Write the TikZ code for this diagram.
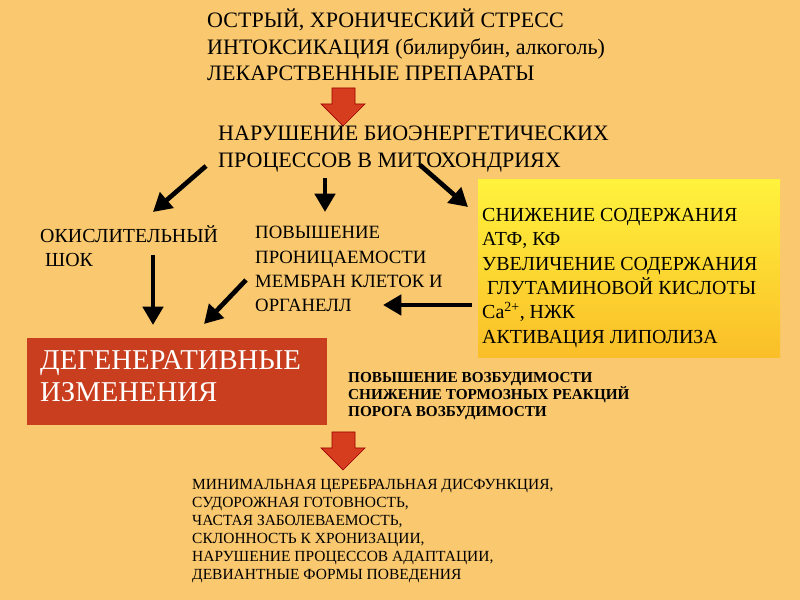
\documentclass[tikz,border=0pt]{standalone}
\usepackage{fontspec}
\setmainfont{Liberation Serif}
\usetikzlibrary{positioning,arrows.meta}
\definecolor{bg}{RGB}{250,200,110}
\definecolor{redbox}{RGB}{200,62,30}
\definecolor{redarrow}{RGB}{214,60,30}
\definecolor{boxtop}{RGB}{255,242,60}
\definecolor{boxbot}{RGB}{250,190,40}
\begin{document}
\begin{tikzpicture}
        [x=0.03cm,y=-0.03cm,
         txt/.style={anchor=north west,align=left,inner sep=0pt,font=\fontsize{17}{20.8}\selectfont},
         small/.style={anchor=north west,align=left,inner sep=0pt,font=\fontsize{13.2}{15.3}\selectfont},
         arr/.style={-{Triangle[length=0.55cm,width=0.6cm]},line width=0.14cm},
         blockarrow/.style={fill=redarrow,draw=red!60!black,line width=0.6pt}]
        \fill[bg] (0,0) rectangle (800,600);
        % top causes
        \node[txt,font=\fontsize{18.8}{22.3}\selectfont](causes) at (207,9){ОСТРЫЙ, ХРОНИЧЕСКИЙ СТРЕСС\\ИНТОКСИКАЦИЯ (билирубин, алкоголь)\\ЛЕКАРСТВЕННЫЕ ПРЕПАРАТЫ};
        \fill[blockarrow] (332,88) -- (355,88) -- (355,104) -- (365,104) -- (343,126) -- (321,104) -- (332,104) -- cycle;
        \node[txt,font=\fontsize{18.8}{23}\selectfont](mito) at (218,126){НАРУШЕНИЕ БИОЭНЕРГЕТИЧЕСКИХ\\ПРОЦЕССОВ В МИТОХОНДРИЯХ};
        % yellow box
        \shade[top color=boxtop,bottom color=boxbot] (478,180) rectangle (780,358);
        \node[txt](atf) at (482,208){СНИЖЕНИЕ СОДЕРЖАНИЯ\\АТФ, КФ\\УВЕЛИЧЕНИЕ СОДЕРЖАНИЯ\\\ ГЛУТАМИНОВОЙ КИСЛОТЫ\\Ca\textsuperscript{2+}, НЖК\\АКТИВАЦИЯ ЛИПОЛИЗА};
        \node[txt](shock) at (40,225){ОКИСЛИТЕЛЬНЫЙ\\\ ШОК};
        \node[txt,font=\fontsize{16}{20.8}\selectfont](perm) at (255,226){ПОВЫШЕНИЕ\\ПРОНИЦАЕМОСТИ\\МЕМБРАН КЛЕТОК И\\ОРГАНЕЛЛ};
        % red box
        \fill[redbox] (27,338) rectangle (327,425);
        \node[txt,text=white,font=\fontsize{24.5}{27.5}\selectfont](degen) at (40,350){ДЕГЕНЕРАТИВНЫЕ\\ИЗМЕНЕНИЯ};
        \node[small,font=\bfseries\fontsize{13}{14.5}\selectfont](excit) at (348,372){ПОВЫШЕНИЕ ВОЗБУДИМОСТИ\\СНИЖЕНИЕ ТОРМОЗНЫХ РЕАКЦИЙ\\ПОРОГА ВОЗБУДИМОСТИ};
        \fill[blockarrow] (332,432) -- (355,432) -- (355,448) -- (365,448) -- (343,470) -- (321,448) -- (332,448) -- cycle;
        \node[small](result) at (192,479){МИНИМАЛЬНАЯ ЦЕРЕБРАЛЬНАЯ ДИСФУНКЦИЯ,\\СУДОРОЖНАЯ ГОТОВНОСТЬ,\\ЧАСТАЯ ЗАБОЛЕВАЕМОСТЬ,\\СКЛОННОСТЬ К ХРОНИЗАЦИИ,\\НАРУШЕНИЕ ПРОЦЕССОВ АДАПТАЦИИ,\\ДЕВИАНТНЫЕ ФОРМЫ ПОВЕДЕНИЯ};
        % black arrows
        \coordinate (m1) at (206,166); \coordinate (s1) at (153,212);
        \coordinate (m2) at (325,178); \coordinate (p1) at (325,212);
        \coordinate (m3) at (420,165); \coordinate (a1) at (468,207);
        \coordinate (a2) at (472,305); \coordinate (p2) at (383,305);
        \coordinate (s2) at (153,255); \coordinate (d1) at (153,325);
        \coordinate (p3) at (246,280); \coordinate (d2) at (204,324);
        \draw[arr] (m1) -- (s1);
        \draw[arr] (m2) -- (p1);
        \draw[arr] (m3) -- (a1);
        \draw[arr] (a2) -- (p2);
        \draw[arr] (s2) -- (d1);
        \draw[arr] (p3) -- (d2);
\end{tikzpicture}
\end{document}
